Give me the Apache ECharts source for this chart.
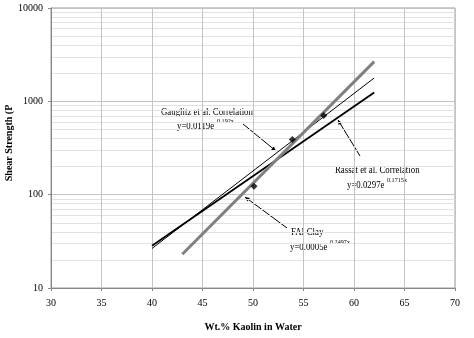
<!DOCTYPE html>
<html><head><meta charset="utf-8">
<script src="https://cdn.jsdelivr.net/npm/echarts@6/dist/echarts.min.js"></script>
<style>html,body{margin:0;padding:0;background:#fff}#c{width:474px;height:338px}</style>
</head><body><div id="c"></div>
<script>
// ---- data ----
const xMin = 30, xMax = 70, xStep = 5;
const yMin = 10, yMax = 10000;
const gauglitzX = [40, 62];
const gauglitzY = [26.5, 1780];
const rassatX = [40, 62];
const rassatY = [28.3, 1240];
const faiX = [43, 62];
const faiY = [23, 2660];
const pointX = [50.1, 53.9, 57.0];
const pointY = [123, 390, 705];

const pairs = (xs, ys) => xs.map((x, i) => [x, ys[i]]);
const FONT = '"Liberation Serif", "Times New Roman", serif';

const chart = echarts.init(document.getElementById('c'), null, {renderer: 'canvas'});

function txt(x, y, s, size, extra) {
  return Object.assign({
    type: 'text', x: x, y: y, scaleX: 0.88, silent: true,
    style: {text: s, font: size + 'px ' + FONT, fill: '#000', textAlign: 'left', textVerticalAlign: 'middle'}
  }, extra || {});
}
function seg(x1, y1, x2, y2) {
  return {type: 'line', silent: true, shape: {x1, y1, x2, y2}, style: {stroke: '#000', lineWidth: 1}};
}
function head(x, y, x0, y0) {
  const a = Math.atan2(y - y0, x - x0), L = 5, w = 0.45;
  return {type: 'polygon', silent: true, shape: {points: [[x, y],
    [x - L * Math.cos(a - w), y - L * Math.sin(a - w)],
    [x - L * Math.cos(a + w), y - L * Math.sin(a + w)]]}, style: {fill: '#000'}};
}

const option = {
  animation: false,
  backgroundColor: '#fff',
  grid: {left: 51, right: 19, top: 8, bottom: 50, show: true, borderColor: '#999', borderWidth: 1},
  xAxis: {
    type: 'value', min: xMin, max: xMax, interval: xStep,
    name: 'Wt.% Kaolin in Water', nameLocation: 'middle', nameGap: 34,
    nameTextStyle: {fontFamily: FONT, fontWeight: 'bold', fontSize: 10, color: '#000'},
    axisLine: {lineStyle: {color: '#888'}},
    axisTick: {show: true, length: 3, lineStyle: {color: '#888'}},
    axisLabel: {fontFamily: FONT, fontSize: 10, color: '#000', margin: 10},
    splitLine: {show: true, lineStyle: {color: '#c4c4c4', width: 1}}
  },
  yAxis: {
    type: 'log', logBase: 10, min: yMin, max: yMax,
    axisLine: {show: true, lineStyle: {color: '#888'}},
    axisTick: {show: true, length: 3, lineStyle: {color: '#888'}},
    axisLabel: {fontFamily: FONT, fontSize: 10, color: '#000', margin: 8,
      formatter: v => String(Math.round(v))},
    splitLine: {show: true, lineStyle: {color: '#c4c4c4', width: 1}},
    minorTick: {show: false, splitNumber: 9},
    minorSplitLine: {show: true, lineStyle: {color: '#e2e2e2', width: 1}}
  },
  series: [
    {type: 'line', data: pairs(gauglitzX, gauglitzY), symbol: 'none', lineStyle: {color: '#000', width: 1}, z: 3},
    {type: 'line', data: pairs(rassatX, rassatY), symbol: 'none', lineStyle: {color: '#000', width: 1.8}, z: 3},
    {type: 'line', data: pairs(faiX, faiY), symbol: 'none', lineStyle: {color: '#808080', width: 3}, z: 4},
    {type: 'scatter', data: pairs(pointX, pointY), symbol: 'diamond', symbolSize: 7, itemStyle: {color: '#000'}, z: 5}
  ],
  graphic: [
    {type: 'text', x: 9, y: 143, rotation: Math.PI / 2, silent: true,
     style: {text: 'Shear Strength (P', font: 'bold 10px ' + FONT, fill: '#000', textAlign: 'center', textVerticalAlign: 'middle'}},
    txt(161, 112, 'Gauglitz et al. Correlation', 10),
    txt(177, 126, 'y=0.0119e', 10),
    txt(217, 121, '0.192x', 7),
    seg(243, 124, 276, 151), head(276, 151, 243, 124),
    txt(335, 170, 'Rassat et al. Correlation', 10),
    txt(347, 185, 'y=0.0297e', 10),
    txt(387, 180, '0.1715x', 7),
    seg(360, 156, 338, 120), head(338, 120, 360, 156),
    txt(291, 232, 'FAI Clay', 10),
    txt(290, 247, 'y=0.0005e', 10),
    txt(330, 242, '0.2497x', 7),
    seg(287, 228, 245, 197), head(245, 197, 287, 228)
  ]
};
chart.setOption(option);
</script>
</body></html>
